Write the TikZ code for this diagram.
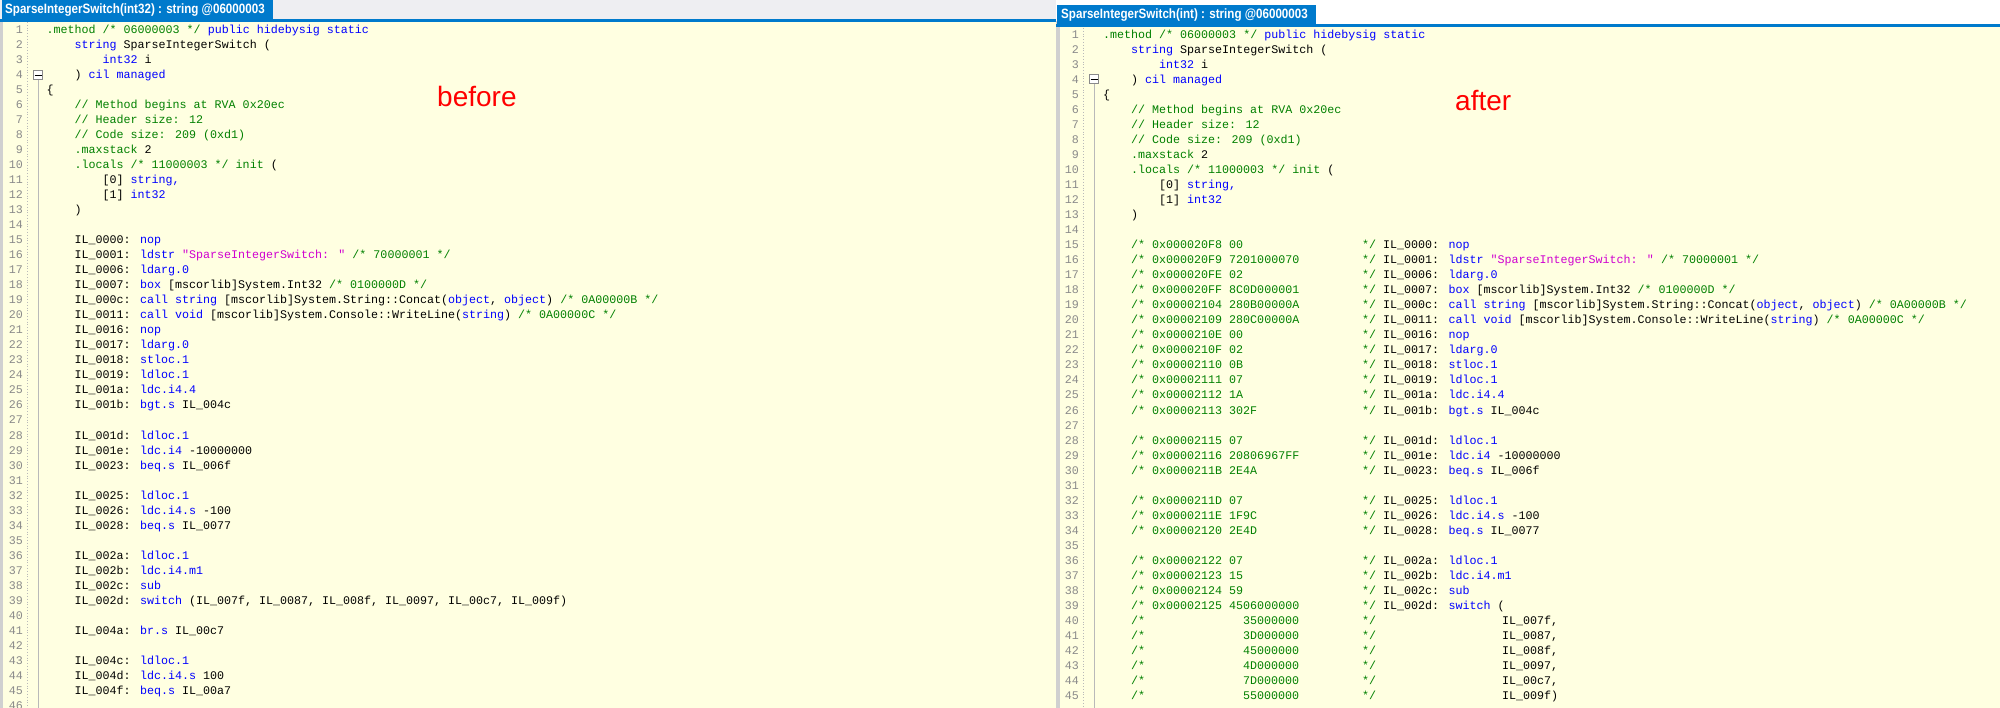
\documentclass[tikz,border=0pt]{standalone}
\usepackage{fontspec}
\setmainfont{Liberation Sans}
\newfontfamily\codefont{Liberation Mono}
\usetikzlibrary{calc}
\definecolor{kwc}{HTML}{0000FF}
\definecolor{cmc}{HTML}{008000}
\definecolor{stc}{HTML}{D000D0}
\definecolor{lnc}{HTML}{8A8A8A}
\definecolor{bgy}{HTML}{FFFFE1}
\definecolor{tabb}{HTML}{007ACC}
\definecolor{topg}{HTML}{EEEEF2}
\newcommand\kw[1]{\textcolor{kwc}{#1}}
\newcommand\cm[1]{\textcolor{cmc}{#1}}
\newcommand\stx[1]{\textcolor{stc}{#1}}
\newcommand\defc[2]{\expandafter\def\csname cc#1\endcsname{#2}}
\defc{1}{\cm{.method /* 06000003 */} \kw{public hidebysig static}}
\defc{2}{\kw{string} SparseIntegerSwitch (}
\defc{3}{\kw{int32} i}
\defc{4}{) \kw{cil managed}}
\defc{5}{\{}
\defc{6}{\cm{// Method begins at RVA 0x20ec}}
\defc{7}{\cm{// Header size: 12}}
\defc{8}{\cm{// Code size: 209 (0xd1)}}
\defc{9}{\cm{.maxstack} 2}
\defc{10}{\cm{.locals /* 11000003 */ init} (}
\defc{11}{[0] \kw{string,}}
\defc{12}{[1] \kw{int32}}
\defc{13}{)}
\defc{15}{IL\_0000: \kw{nop}}
\defc{16}{IL\_0001: \kw{ldstr} \stx{"SparseIntegerSwitch: "} \cm{/* 70000001 */}}
\defc{17}{IL\_0006: \kw{ldarg.0}}
\defc{18}{IL\_0007: \kw{box} [mscorlib]System.Int32 \cm{/* 0100000D */}}
\defc{19}{IL\_000c: \kw{call string} [mscorlib]System.String::Concat(\kw{object}, \kw{object}) \cm{/* 0A00000B */}}
\defc{20}{IL\_0011: \kw{call void} [mscorlib]System.Console::WriteLine(\kw{string}) \cm{/* 0A00000C */}}
\defc{21}{IL\_0016: \kw{nop}}
\defc{22}{IL\_0017: \kw{ldarg.0}}
\defc{23}{IL\_0018: \kw{stloc.1}}
\defc{24}{IL\_0019: \kw{ldloc.1}}
\defc{25}{IL\_001a: \kw{ldc.i4.4}}
\defc{26}{IL\_001b: \kw{bgt.s} IL\_004c}
\defc{28}{IL\_001d: \kw{ldloc.1}}
\defc{29}{IL\_001e: \kw{ldc.i4} -10000000}
\defc{30}{IL\_0023: \kw{beq.s} IL\_006f}
\defc{32}{IL\_0025: \kw{ldloc.1}}
\defc{33}{IL\_0026: \kw{ldc.i4.s} -100}
\defc{34}{IL\_0028: \kw{beq.s} IL\_0077}
\defc{36}{IL\_002a: \kw{ldloc.1}}
\defc{37}{IL\_002b: \kw{ldc.i4.m1}}
\defc{38}{IL\_002c: \kw{sub}}
\defc{41}{IL\_004a: \kw{br.s} IL\_00c7}
\defc{43}{IL\_004c: \kw{ldloc.1}}
\defc{44}{IL\_004d: \kw{ldc.i4.s} 100}
\defc{45}{IL\_004f: \kw{beq.s} IL\_00a7}
\newcommand\Lline[2]{\node[code] (L#1) at ({46.5+7*#2},{-34-15*(#1-1)}) {\csname cc#1\endcsname};}
\newcommand\Rline[2]{\node[code] (R#1) at ({1103+7*#2},{-39-15*(#1-1)}) {\csname cc#1\endcsname};}
\newcommand\Rtxt[3]{\node[code] (R#1c#2) at ({1103+7*#2},{-39-15*(#1-1)}) {#3};}
\newcommand\Rhex[2]{\Rtxt{#1}{4}{\cm{/* #2}}\Rtxt{#1}{37}{\cm{*/}}}
\newcommand\Rsw[3]{\Rtxt{#1}{4}{\cm{/*}}\Rtxt{#1}{20}{\cm{#2}}\Rtxt{#1}{37}{\cm{*/}}\Rtxt{#1}{57}{#3}}
\begin{document}
\begin{tikzpicture}[x=1pt,y=1pt,
  code/.style={inner sep=0pt,anchor=base west,font=\codefont\fontsize{11.67}{12}\selectfont},
  lnum/.style={inner sep=0pt,anchor=base east,text=lnc,font=\codefont\fontsize{11.67}{12}\selectfont},
  tabtxt/.style={inner sep=0pt,anchor=west,text=white,font=\bfseries\fontsize{13.5}{14}\selectfont},
  note/.style={inner sep=0pt,anchor=base west,text=red,font=\fontsize{28}{30}\selectfont},
  guide/.style={draw=lnc!60,line width=0.8pt},
  foldbox/.style={draw=lnc,fill=white,line width=0.6pt}]
\useasboundingbox (0,0) rectangle (2000,-708);
% backgrounds
\fill[topg] (0,0) rectangle (1056,-20);
\fill[white] (1056,0) rectangle (2000,-26);
\fill[bgy] (0,-21) rectangle (1056,-708);
\fill[bgy] (1060,-27) rectangle (2000,-708);
\fill[lnc!40] (1056,-21) rectangle (1060,-708);
\fill[lnc!40] (0,-21) rectangle (3,-708);
% tabs
\fill[tabb] (0,-19) rectangle (1056,-22);
\fill[tabb] (2,0) rectangle (273,-20);
\node[tabtxt] (ltab) at (5,-10) {\scalebox{0.86}[1]{SparseIntegerSwitch(int32) : string @06000003}};
\fill[tabb] (1056,-24) rectangle (2000,-27);
\fill[tabb] (1057,-5) rectangle (1316,-26);
\node[tabtxt] (rtab) at (1061,-15.5) {\scalebox{0.86}[1]{SparseIntegerSwitch(int) : string @06000003}};
% guides
\draw[guide,dotted] (27,-22) -- (27,-708);
\draw[guide] (38,-80) -- (38,-708);
\draw[guide,dotted] (1083,-28) -- (1083,-708);
\draw[guide] (1094,-84) -- (1094,-708);
\node[foldbox,minimum width=9pt,minimum height=9pt,inner sep=0pt] (lfold) at (38,-75) {};
\draw (34.5,-75) -- (41.5,-75);
\node[foldbox,minimum width=9pt,minimum height=9pt,inner sep=0pt] (rfold) at (1094,-79) {};
\draw (1090.5,-79) -- (1097.5,-79);
% line numbers
\foreach \n in {1,...,46} {\node[lnum] (ln\n) at (23,{-34-15*(\n-1)}) {\n};}
\foreach \n in {1,...,45} {\node[lnum] (rn\n) at (1079,{-39-15*(\n-1)}) {\n};}
% notes
\node[note] (before) at (437,-107) {before};
\node[note] (after) at (1455,-111) {after};
% left code
\Lline{1}{0}\Lline{2}{4}\Lline{3}{8}\Lline{4}{4}\Lline{5}{0}
\foreach \n in {6,7,8,9,10} {\Lline{\n}{4}}
\Lline{11}{8}\Lline{12}{8}\Lline{13}{4}
\foreach \n in {15,16,17,18,19,20,21,22,23,24,25,26,28,29,30,32,33,34,36,37,38,41,43,44,45} {\Lline{\n}{4}}
\node[code] (L39) at ({46.5+28},{-34-15*38}) {IL\_002d: \kw{switch} (IL\_007f, IL\_0087, IL\_008f, IL\_0097, IL\_00c7, IL\_009f)};
% right code
\Rline{1}{0}\Rline{2}{4}\Rline{3}{8}\Rline{4}{4}\Rline{5}{0}
\foreach \n in {6,7,8,9,10} {\Rline{\n}{4}}
\Rline{11}{8}\Rline{12}{8}\Rline{13}{4}
\foreach \n/\h in {15/0x000020F8 00,16/0x000020F9 7201000070,17/0x000020FE 02,18/0x000020FF 8C0D000001,19/0x00002104 280B00000A,20/0x00002109 280C00000A,21/0x0000210E 00,22/0x0000210F 02,23/0x00002110 0B,24/0x00002111 07,25/0x00002112 1A,26/0x00002113 302F,28/0x00002115 07,29/0x00002116 20806967FF,30/0x0000211B 2E4A,32/0x0000211D 07,33/0x0000211E 1F9C,34/0x00002120 2E4D,36/0x00002122 07,37/0x00002123 15,38/0x00002124 59}
  {\Rhex{\n}{\h}\Rline{\n}{40}}
\Rhex{39}{0x00002125 4506000000}
\Rtxt{39}{40}{IL\_002d: \kw{switch} (}
\Rsw{40}{35000000}{IL\_007f,}
\Rsw{41}{3D000000}{IL\_0087,}
\Rsw{42}{45000000}{IL\_008f,}
\Rsw{43}{4D000000}{IL\_0097,}
\Rsw{44}{7D000000}{IL\_00c7,}
\Rsw{45}{55000000}{IL\_009f)}
\end{tikzpicture}
\end{document}
